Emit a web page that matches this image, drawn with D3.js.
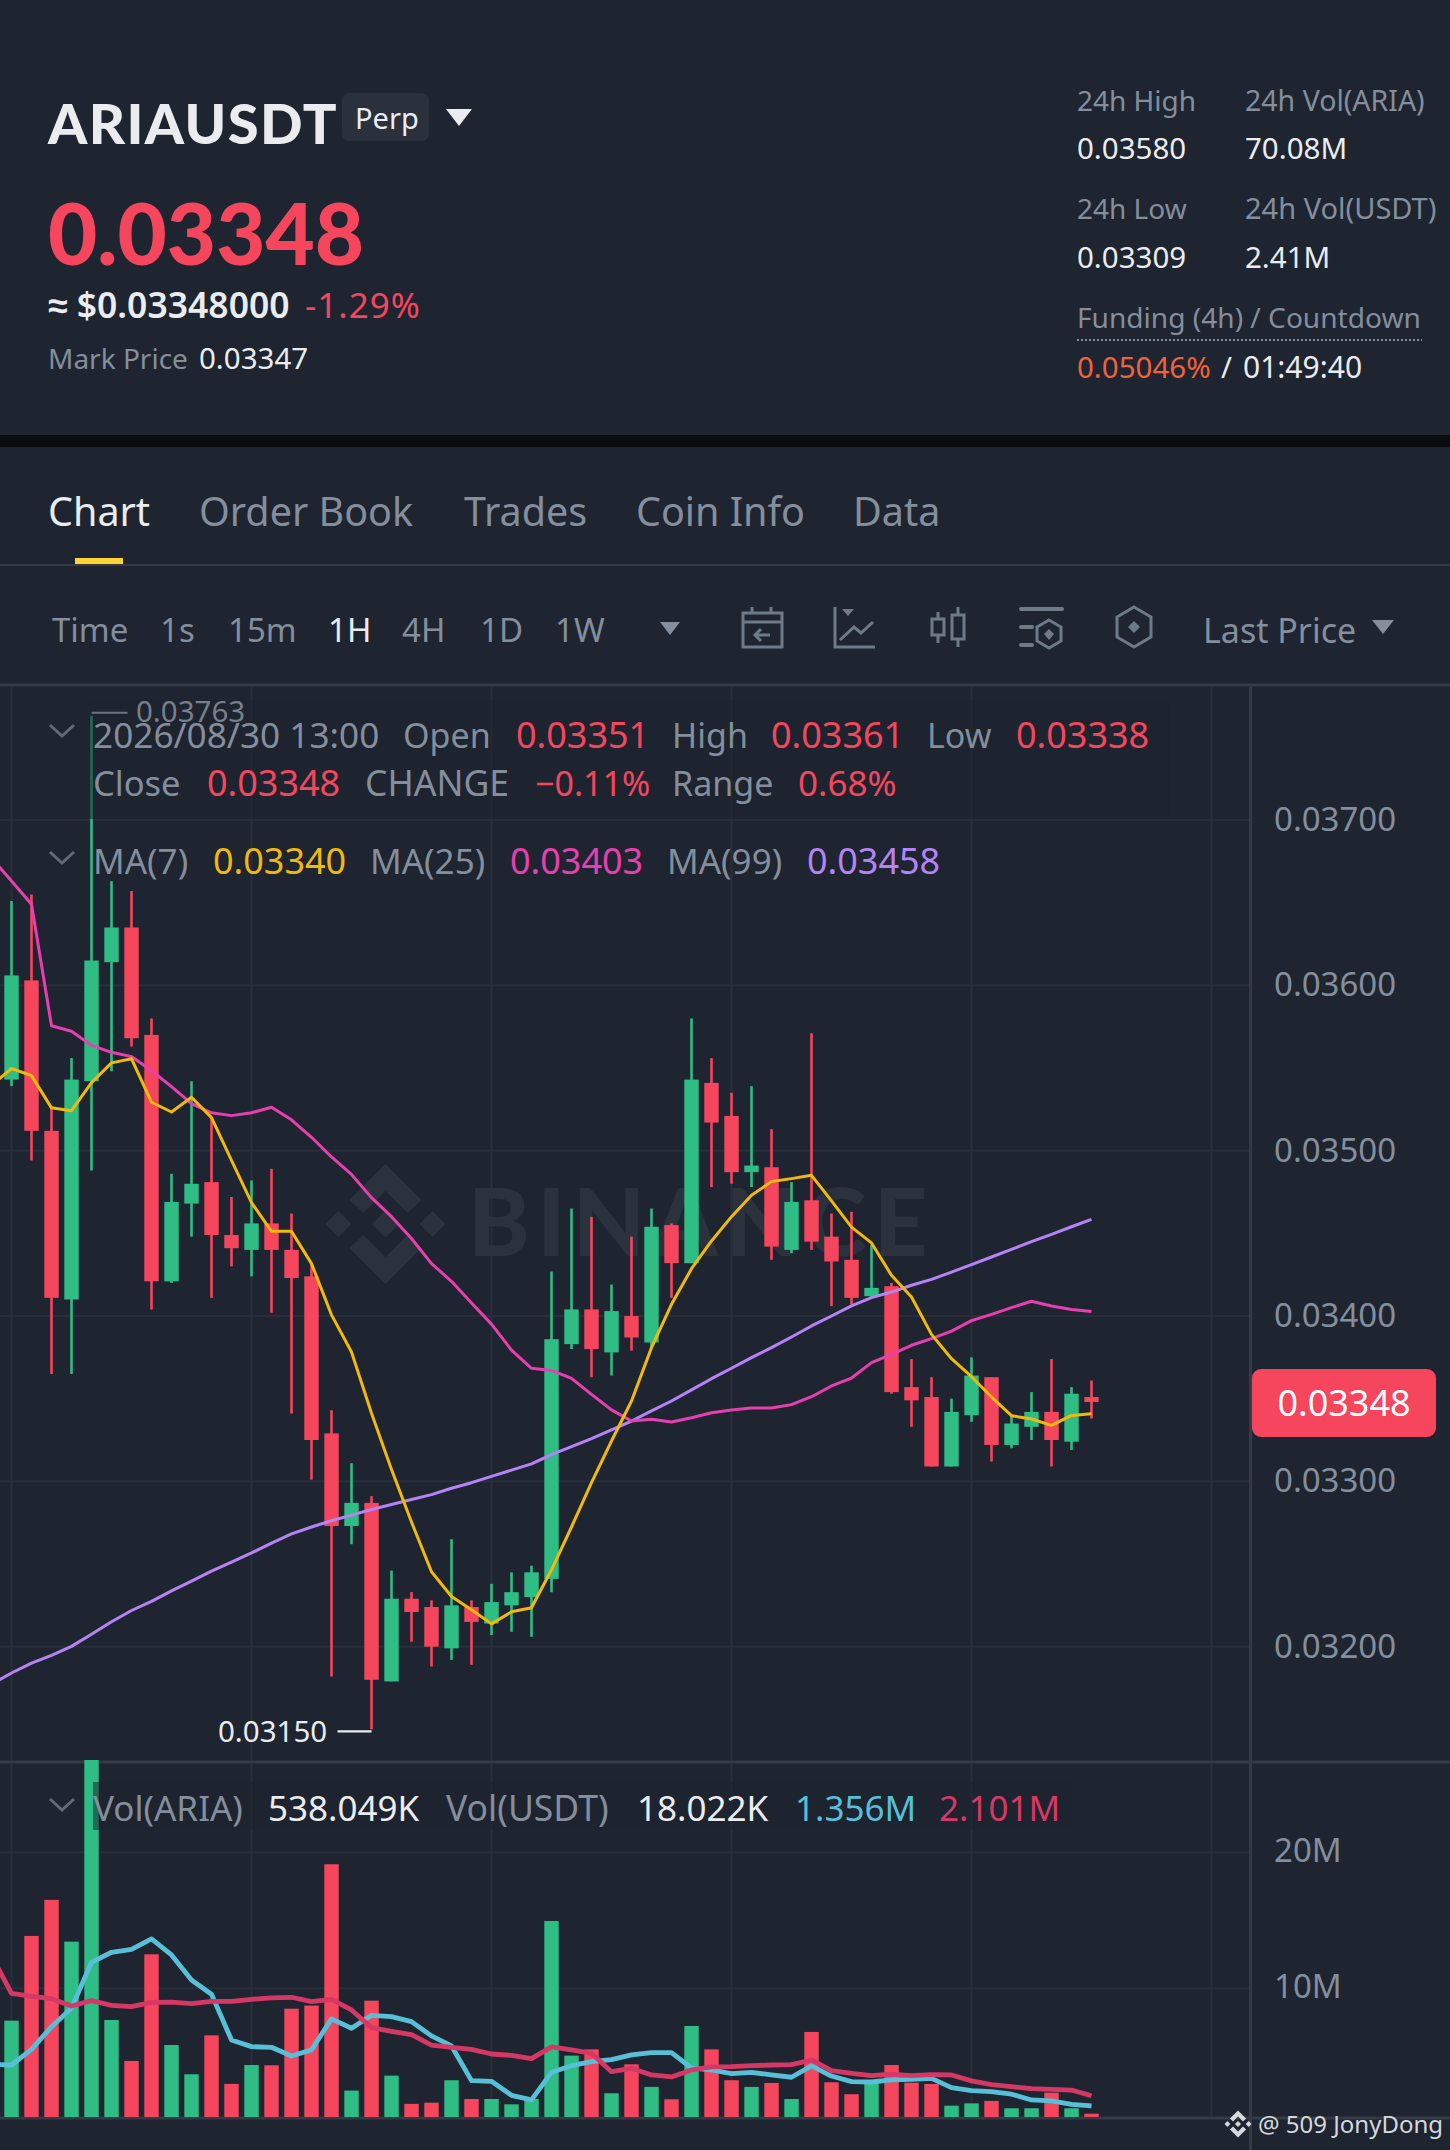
<!DOCTYPE html>
<html>
<head>
<meta charset="utf-8">
<script src="https://cdn.jsdelivr.net/npm/d3@7"></script>
<style>
  html, body { margin: 0; padding: 0; background: #1e2530; }
  svg { display: block; }
  text { font-family: "Noto Sans", sans-serif; }
  .head { font-family: Lato, sans-serif; }
</style>
</head>
<body>
<div id="chart"></div>
<script>
// candles, oldest first
var opens = [0.03543,0.03603,0.03512,0.03410,0.03542,0.03614,0.03635,0.03570,0.03421,0.03468,0.03481,0.03449,0.03440,0.03456,0.03440,0.03424,0.03329,0.03273,0.03287,0.03179,0.03229,0.03224,0.03199,0.03224,0.03214,0.03225,0.03230,0.03241,0.03383,0.03404,0.03378,0.03400,0.03384,0.03455,0.03432,0.03541,0.03521,0.03487,0.03490,0.03440,0.03470,0.03448,0.03434,0.03412,0.03418,0.03357,0.03351,0.03309,0.03340,0.03363,0.03322,0.03333,0.03342,0.03324,0.03351];
var closes = [0.03606,0.03512,0.03411,0.03543,0.03615,0.03635,0.03568,0.03421,0.03469,0.03480,0.03449,0.03441,0.03456,0.03440,0.03423,0.03325,0.03273,0.03287,0.03180,0.03229,0.03221,0.03200,0.03225,0.03215,0.03227,0.03233,0.03245,0.03386,0.03404,0.03380,0.03403,0.03387,0.03454,0.03432,0.03543,0.03517,0.03487,0.03491,0.03442,0.03469,0.03445,0.03433,0.03411,0.03417,0.03354,0.03349,0.03309,0.03342,0.03364,0.03322,0.03335,0.03342,0.03325,0.03353,0.03348];
var highs = [0.03651,0.03655,0.03526,0.03556,0.03763,0.03663,0.03657,0.03580,0.03486,0.03542,0.03520,0.03472,0.03482,0.03489,0.03462,0.03432,0.03343,0.03311,0.03291,0.03246,0.03233,0.03228,0.03265,0.03228,0.03238,0.03245,0.03249,0.03427,0.03465,0.03460,0.03419,0.03448,0.03465,0.03456,0.03580,0.03556,0.03535,0.03539,0.03513,0.03481,0.03571,0.03462,0.03463,0.03443,0.03420,0.03374,0.03363,0.03350,0.03375,0.03363,0.03340,0.03354,0.03374,0.03357,0.03361];
var lows = [0.03539,0.03494,0.03365,0.03365,0.03488,0.03548,0.03563,0.03404,0.03420,0.03448,0.03411,0.03430,0.03424,0.03402,0.03341,0.03301,0.03182,0.03262,0.03150,0.03179,0.03203,0.03188,0.03192,0.03189,0.03207,0.03209,0.03206,0.03233,0.03380,0.03363,0.03364,0.03379,0.03381,0.03411,0.03432,0.03478,0.03480,0.03478,0.03434,0.03438,0.03440,0.03406,0.03407,0.03411,0.03353,0.03333,0.03309,0.03309,0.03336,0.03312,0.03320,0.03325,0.03309,0.03319,0.03338];

// moving averages start one candle earlier, off the left edge
var ma7 = [0.035395,0.035497,0.035454,0.035259,0.035242,0.035412,0.035531,0.035556,0.035293,0.035234,0.035323,0.035200,0.034941,0.034686,0.034512,0.034512,0.034317,0.034007,0.033782,0.033412,0.033072,0.032754,0.032453,0.032304,0.032223,0.032138,0.032211,0.032236,0.032465,0.032724,0.032992,0.033244,0.033486,0.033809,0.034071,0.034286,0.034454,0.034601,0.034730,0.034813,0.034831,0.034851,0.034696,0.034538,0.034442,0.034246,0.034115,0.033889,0.033742,0.033633,0.033510,0.033397,0.033377,0.033339,0.033399,0.033409];
var ma25 = [0.036771,0.036631,0.036490,0.035756,0.035722,0.035637,0.035595,0.035569,0.035484,0.035387,0.035285,0.035229,0.035212,0.035229,0.035263,0.035187,0.035081,0.034962,0.034856,0.034716,0.034601,0.034469,0.034317,0.034210,0.034079,0.033951,0.033794,0.033684,0.033671,0.033623,0.033526,0.033432,0.033365,0.033375,0.033359,0.033385,0.033415,0.033432,0.033444,0.033444,0.033464,0.033512,0.033577,0.033625,0.033718,0.033768,0.033823,0.033863,0.033909,0.033972,0.034010,0.034051,0.034089,0.034061,0.034040,0.034028];
var ma99 = [0.031773,0.031841,0.031901,0.031947,0.032002,0.032075,0.032151,0.032219,0.032274,0.032338,0.032397,0.032457,0.032512,0.032567,0.032627,0.032682,0.032724,0.032762,0.032796,0.032830,0.032860,0.032890,0.032920,0.032958,0.032992,0.033030,0.033068,0.033106,0.033162,0.033210,0.033258,0.033311,0.033365,0.033426,0.033486,0.033553,0.033621,0.033684,0.033748,0.033809,0.033873,0.033940,0.034000,0.034061,0.034111,0.034145,0.034186,0.034222,0.034266,0.034311,0.034357,0.034403,0.034450,0.034494,0.034540,0.034585];

// volume in millions, with its two averages (also one candle earlier)
var volumes = [7.62,13.85,16.5,13.43,26.8,7.67,4.66,12.5,5.83,3.68,6.54,2.97,4.36,4.34,8.5,8.73,19.12,2.48,9.09,3.58,1.5,1.59,3.24,1.86,1.86,1.47,1.86,14.95,5.05,5.51,2.28,4.41,2.75,1.84,7.23,5.51,3.24,2.75,3.04,1.86,6.79,3.09,2.21,3.26,4.36,3.06,2.97,1.37,1.54,1.72,1.18,1.18,2.33,1.18,0.538];
var volMa5 = [4.41,4.36,5.51,7.18,8.53,11.91,12.65,12.87,13.63,12.45,10.61,9.56,6.2,5.71,5.66,5.02,5.47,7.75,7.06,8.01,7.92,7.55,6.5,5.76,3.21,3.16,2.13,1.79,3.82,4.31,4.61,4.75,5.1,5.27,5.27,4.14,4.0,3.73,3.82,3.63,3.46,4.29,3.55,3.14,3.11,3.26,3.31,3.38,2.7,2.48,2.4,2.21,1.79,1.72,1.47,1.356];
var volMa10 = [12.4,9.63,9.41,9.24,8.7,9.09,8.75,8.65,8.97,8.99,8.87,9.04,9.04,9.19,9.29,9.34,9.02,9.19,8.41,7.11,6.84,6.59,5.83,5.66,5.51,5.17,5.07,4.83,5.69,5.47,5.22,3.87,4.12,3.63,3.48,4.0,4.22,4.24,4.31,4.36,4.39,4.73,3.95,3.75,3.58,3.68,3.58,3.65,3.63,3.19,2.92,2.77,2.62,2.57,2.52,2.101];

var priceTicks = [0.037,0.036,0.035,0.034,0.033,0.032];
var volTicks = [20,10];
var timeGrid = [0,12,24,36,48,60];
var intervals = [["Time",52,"#848e9c"],["1s",160,"#848e9c"],["15m",228,"#848e9c"],["1H",328,"#eaecef"],["4H",402,"#848e9c"],["1D",480,"#848e9c"],["1W",555,"#848e9c"]];
var tabs = [["Chart",48,"#eaecef"],["Order Book",199,"#848e9c"],["Trades",464,"#848e9c"],["Coin Info",636,"#848e9c"],["Data",853,"#848e9c"]];

var BG = "#1e2530", RED = "#f6465d", GREEN = "#2ebd85", GREY = "#848e9c", WHITE = "#eaecef", LINE = "#333b47", GRID = "#282f3b";

var svg = d3.select("#chart").append("svg")
  .attr("width", 1450)
  .attr("height", 2150);

svg.append("rect").attr("width",1450).attr("height",2150).attr("fill",BG);

// scales
var x = d3.scaleLinear().domain([0,60]).range([11.5,1211.5]);
var y = d3.scaleLinear().domain([0.037,0.032]).range([820,1646.7]);
var yV = d3.scaleLinear().domain([20,10]).range([1852.3,1988.3]);

function label(g, str, px, py, size, color, cls) {
  return g.append("text").attr("x",px).attr("y",py)
    .attr("font-size",size).attr("fill",color)
    .attr("class",cls || null).text(str);
}

// ---- header
var head = svg.append("g");
head.append("rect").attr("x",0).attr("y",435).attr("width",1450).attr("height",12).attr("fill","#0a0d10");
label(head,"ARIAUSDT",48,144,56,WHITE,"head").attr("font-weight",900).attr("letter-spacing",1.4);
head.append("rect").attr("x",342).attr("y",93).attr("width",87).attr("height",48).attr("rx",7).attr("fill","#2a303c");
label(head,"Perp",355,129,29,WHITE);
head.append("path").attr("d","M446,109H472L459,126Z").attr("fill",WHITE);
label(head,"0.03348",48,265,85,RED,"head").attr("font-weight",900);
label(head,"≈ $0.03348000",48,318,35.5,WHITE).attr("font-weight",600);
label(head,"-1.29%",305,318,35,RED).attr("letter-spacing",1);
label(head,"Mark Price",48,369,28,GREY);
label(head,"0.03347",199,369,29.5,WHITE);

label(head,"24h High",1077,111,28,GREY);
label(head,"24h Vol(ARIA)",1245,111,28.5,GREY);
label(head,"0.03580",1077,159,29.5,WHITE);
label(head,"70.08M",1245,159,29.5,WHITE);
label(head,"24h Low",1077,219,28,GREY);
label(head,"24h Vol(USDT)",1245,219,29,GREY);
label(head,"0.03309",1077,268,29.5,WHITE);
label(head,"2.41M",1245,268,29.5,WHITE);
label(head,"Funding (4h) / Countdown",1077,328,28.1,GREY);
head.append("line").attr("x1",1077).attr("x2",1422).attr("y1",340).attr("y2",340)
  .attr("stroke",GREY).attr("stroke-width",2).attr("stroke-dasharray","2 2");
label(head,"0.05046%",1077,378,29.5,"#f0613d");
label(head,"/",1221,378,29.5,WHITE);
label(head,"01:49:40",1243,378,30,WHITE);

// ---- tabs
var bar = svg.append("g");
tabs.forEach(function(t){ label(bar,t[0],t[1],526,39.5,t[2]); });
bar.append("rect").attr("x",75).attr("y",558).attr("width",48).attr("height",8).attr("fill","#fcd535");
bar.append("line").attr("x1",0).attr("x2",1450).attr("y1",565).attr("y2",565).attr("stroke",LINE).attr("stroke-width",2);

// ---- interval row and its icons
intervals.forEach(function(t){ label(bar,t[0],t[1],642,33,t[2]); });
bar.append("path").attr("d","M660,622H680L670,635Z").attr("fill",GREY);
label(bar,"Last Price",1203,643,34,GREY);
bar.append("path").attr("d","M1372,620H1394L1383,634Z").attr("fill",GREY);
bar.append("line").attr("x1",0).attr("x2",1450).attr("y1",685).attr("y2",685).attr("stroke",LINE).attr("stroke-width",3);

var icons = bar.append("g").attr("fill","none").attr("stroke","#6f7a89").attr("stroke-width",3);
icons.append("rect").attr("x",743).attr("y",613).attr("width",39).attr("height",34);
icons.append("path").attr("d","M743,622H782M752,607V613M771,607V613M770,635H755M761,629L755,635L761,641");
icons.append("path").attr("d","M835,607V647H875M840,640L854,627L861,633L873,622");
icons.append("path").attr("d","M842,609H854L848,616Z").attr("fill","#6f7a89").attr("stroke","none");
icons.append("rect").attr("x",932).attr("y",619).attr("width",12).attr("height",16);
icons.append("rect").attr("x",952).attr("y",615).attr("width",12).attr("height",24);
icons.append("path").attr("d","M938,612V619M938,635V643M958,607V615M958,639V647");
icons.append("path").attr("d","M1021,609H1062M1021,627H1032M1021,645H1032").attr("stroke-linecap","round").attr("stroke-width",4);
icons.append("path").attr("d","M1049,620L1061,627V641L1049,648L1037,641V627Z");
icons.append("path").attr("d","M1049,629L1054,634L1049,640L1044,634Z").attr("fill","#6f7a89").attr("stroke","none");
icons.append("path").attr("d","M1134,607L1151,617V637L1134,647L1117,637V617Z");
icons.append("path").attr("d","M1134,621L1140,627L1134,633L1128,627Z").attr("fill","#6f7a89").attr("stroke","none");

// ---- grids
var gridG = svg.append("g");
gridG.selectAll(".vgrid").data(timeGrid).enter().append("line")
  .attr("class","vgrid")
  .attr("x1",function(d){ return x(d); }).attr("x2",function(d){ return x(d); })
  .attr("y1",687).attr("y2",2117)
  .attr("stroke",GRID).attr("stroke-width",2);
gridG.selectAll(".pgrid").data(priceTicks).enter().append("line")
  .attr("class","pgrid")
  .attr("x1",0).attr("x2",1250)
  .attr("y1",function(d){ return y(d); }).attr("y2",function(d){ return y(d); })
  .attr("stroke",GRID).attr("stroke-width",2);
gridG.selectAll(".vol-grid").data(volTicks).enter().append("line")
  .attr("class","vol-grid")
  .attr("x1",0).attr("x2",1250)
  .attr("y1",function(d){ return yV(d); }).attr("y2",function(d){ return yV(d); })
  .attr("stroke",GRID).attr("stroke-width",2);

// ---- frame lines
var frame = svg.append("g").attr("stroke",LINE).attr("stroke-width",3);
frame.append("line").attr("x1",0).attr("x2",1450).attr("y1",1762).attr("y2",1762);
frame.append("line").attr("x1",0).attr("x2",1450).attr("y1",2118).attr("y2",2118);
frame.append("line").attr("x1",1250.5).attr("x2",1250.5).attr("y1",687).attr("y2",2150);

// ---- watermark
var logoParts = [
  "M-60,0L-47,-13L-34,0L-47,13Z",
  "M60,0L47,-13L34,0L47,13Z",
  "M0,-13.5L13.5,0L0,13.5L-13.5,0Z",
  "M0,-60L36,-24L22,-11L0,-33L-22,-11L-36,-24Z",
  "M0,60L36,24L22,11L0,33L-22,11L-36,24Z"
];
function logo(g, cx, cy, s, color) {
  g.append("path").attr("d",logoParts.join(""))
    .attr("transform","translate("+cx+","+cy+") scale("+s+")")
    .attr("fill",color);
}
var mark = svg.append("g");
logo(mark,385.5,1224,1,"#2b323e");
label(mark,"BINANCE",468,1256,93,"#2b323e","head").attr("font-weight",900).attr("letter-spacing",7.6);

// ---- candles
svg.append("clipPath").attr("id","price-clip").append("rect")
  .attr("x",0).attr("y",686).attr("width",1250).attr("height",1076);
svg.append("clipPath").attr("id","vol-clip").append("rect")
  .attr("x",0).attr("y",1760).attr("width",1250).attr("height",357);

var candles = svg.append("g").attr("clip-path","url(#price-clip)");
var bodyW = 14.4;

candles.selectAll(".wick").data(opens).enter().append("line")
  .attr("class","wick")
  .attr("x1",function(d,i){ return x(i); }).attr("x2",function(d,i){ return x(i); })
  .attr("y1",function(d,i){ return y(highs[i]); })
  .attr("y2",function(d,i){ return y(lows[i]); })
  .attr("stroke",function(d,i){ return closes[i] >= d ? GREEN : RED; })
  .attr("stroke-width",2.6);

candles.selectAll(".body").data(opens).enter().append("rect")
  .attr("class","body")
  .attr("x",function(d,i){ return x(i) - bodyW/2; })
  .attr("y",function(d,i){ return y(Math.max(d,closes[i])); })
  .attr("width",bodyW)
  .attr("height",function(d,i){ return Math.max(2, Math.abs(y(d) - y(closes[i]))); })
  .attr("fill",function(d,i){ return closes[i] >= d ? GREEN : RED; });

// averages carry one extra point left of candle 0
var priceLine = d3.line()
  .x(function(d,i){ return x(i-1); })
  .y(function(d){ return y(d); });
var volLine = d3.line()
  .x(function(d,i){ return x(i-1); })
  .y(function(d){ return yV(d); });

[[ma99,"#b583f5"],[ma25,"#e83fb0"],[ma7,"#f0b90b"]].forEach(function(s){
  candles.append("path").datum(s[0])
    .attr("d",priceLine).attr("fill","none")
    .attr("stroke",s[1]).attr("stroke-width",3)
    .attr("stroke-linejoin","round");
});

// ---- volume
var vol = svg.append("g").attr("clip-path","url(#vol-clip)");
vol.selectAll(".vol").data(volumes).enter().append("rect")
  .attr("class","vol")
  .attr("x",function(d,i){ return x(i) - bodyW/2; })
  .attr("y",function(d){ return Math.min(yV(d), 2113.7); })
  .attr("width",bodyW)
  .attr("height",function(d){ return 2117 - Math.min(yV(d), 2113.7); })
  .attr("fill",function(d,i){ return closes[i] >= opens[i] ? GREEN : RED; });

[[volMa5,"#58bfd8"],[volMa10,"#d63865"]].forEach(function(s){
  vol.append("path").datum(s[0])
    .attr("d",volLine).attr("fill","none")
    .attr("stroke",s[1]).attr("stroke-width",4.8)
    .attr("stroke-linejoin","round");
});

// legends sit on a see-through box that dims what is under them
svg.append("rect").attr("x",90).attr("y",700).attr("width",1080).attr("height",119)
  .attr("fill",BG).attr("opacity",0.55);
svg.append("rect").attr("x",93).attr("y",1782).attr("width",980).attr("height",48)
  .attr("fill",BG).attr("opacity",0.55);

// ---- highest / lowest tags, read from the candles
var hiIdx = d3.maxIndex(highs), loIdx = d3.minIndex(lows);
var tags = svg.append("g");
tags.append("line").attr("x1",x(hiIdx)).attr("x2",x(hiIdx)+36)
  .attr("y1",y(highs[hiIdx])-3).attr("y2",y(highs[hiIdx])-3).attr("stroke","#6d747f").attr("stroke-width",2);
label(tags,d3.format(".5f")(highs[hiIdx]),136,722,29.5,"#787f8a");
tags.append("line").attr("x1",x(loIdx)-34).attr("x2",x(loIdx))
  .attr("y1",y(lows[loIdx])+2).attr("y2",y(lows[loIdx])+2).attr("stroke",WHITE).attr("stroke-width",2.4);
label(tags,d3.format(".5f")(lows[loIdx]),218,1742,29.5,WHITE);

// ---- axes
var axisP = d3.axisRight(y).tickValues(priceTicks).tickSize(0).tickPadding(0)
  .tickFormat(d3.format(".5f"));
var axisV = d3.axisRight(yV).tickValues(volTicks).tickSize(0).tickPadding(0)
  .tickFormat(function(d){ return d + "M"; });

[[axisP,0],[axisV,-1]].forEach(function(a){
  var g = svg.append("g").attr("transform","translate(1274,"+a[1]+")").call(a[0]);
  g.select(".domain").remove();
  g.selectAll("text").attr("font-size",33).attr("font-family","Noto Sans").attr("fill",GREY);
});

// last price tag
var lastClose = closes[closes.length-1];
svg.append("rect").attr("x",1252).attr("y",y(lastClose)-33).attr("width",184).attr("height",68)
  .attr("rx",9).attr("fill",RED);
label(svg,d3.format(".5f")(lastClose),1344,y(lastClose)+14,36,"#fff").attr("text-anchor","middle");

// ---- legends
var leg = svg.append("g");
function chevron(x0, y0) {
  leg.append("path").attr("d","M"+x0+","+y0+"l12,11l12,-11")
    .attr("fill","none").attr("stroke","#626a76").attr("stroke-width",3);
}
chevron(50,725); chevron(50,852); chevron(50,1799);

var legendRows = [
  ["2026/08/30 13:00",93,748,GREY,35.2],["Open",403,748,GREY,34],["0.03351",516,748,RED,36],["High",672,748,GREY,34],["0.03361",771,748,RED,36],["Low",927,748,GREY,34],["0.03338",1016,748,RED,36],
  ["Close",93,796,GREY,34.5],["0.03348",207,796,RED,36],["CHANGE",365,796,GREY,35.5],["−0.11%",535,796,RED,34],["Range",672,796,GREY,34],["0.68%",798,796,RED,35],
  ["MA(7)",93,874,GREY,35],["0.03340",213,874,"#f0b90b",36],["MA(25)",370,874,GREY,35],["0.03403",510,874,"#e83fb0",36],["MA(99)",667,874,GREY,35],["0.03458",807,874,"#b583f5",36],
  ["Vol(ARIA)",93,1821,GREY,35],["538.049K",268,1821,WHITE,35],["Vol(USDT)",446,1821,GREY,35.5],["18.022K",637,1821,WHITE,35],["1.356M",795,1821,"#58bfd8",35],["2.101M",939,1821,"#d63865",35]
];
legendRows.forEach(function(r){ label(leg,r[0],r[1],r[2],r[4],r[3]); });

// ---- credit
var credit = svg.append("g");
logo(credit,1238,2124,0.225,"#d5d8dd");
label(credit,"@ 509 JonyDong",1258,2133,24,"#d5d8dd");
</script>
</body>
</html>
